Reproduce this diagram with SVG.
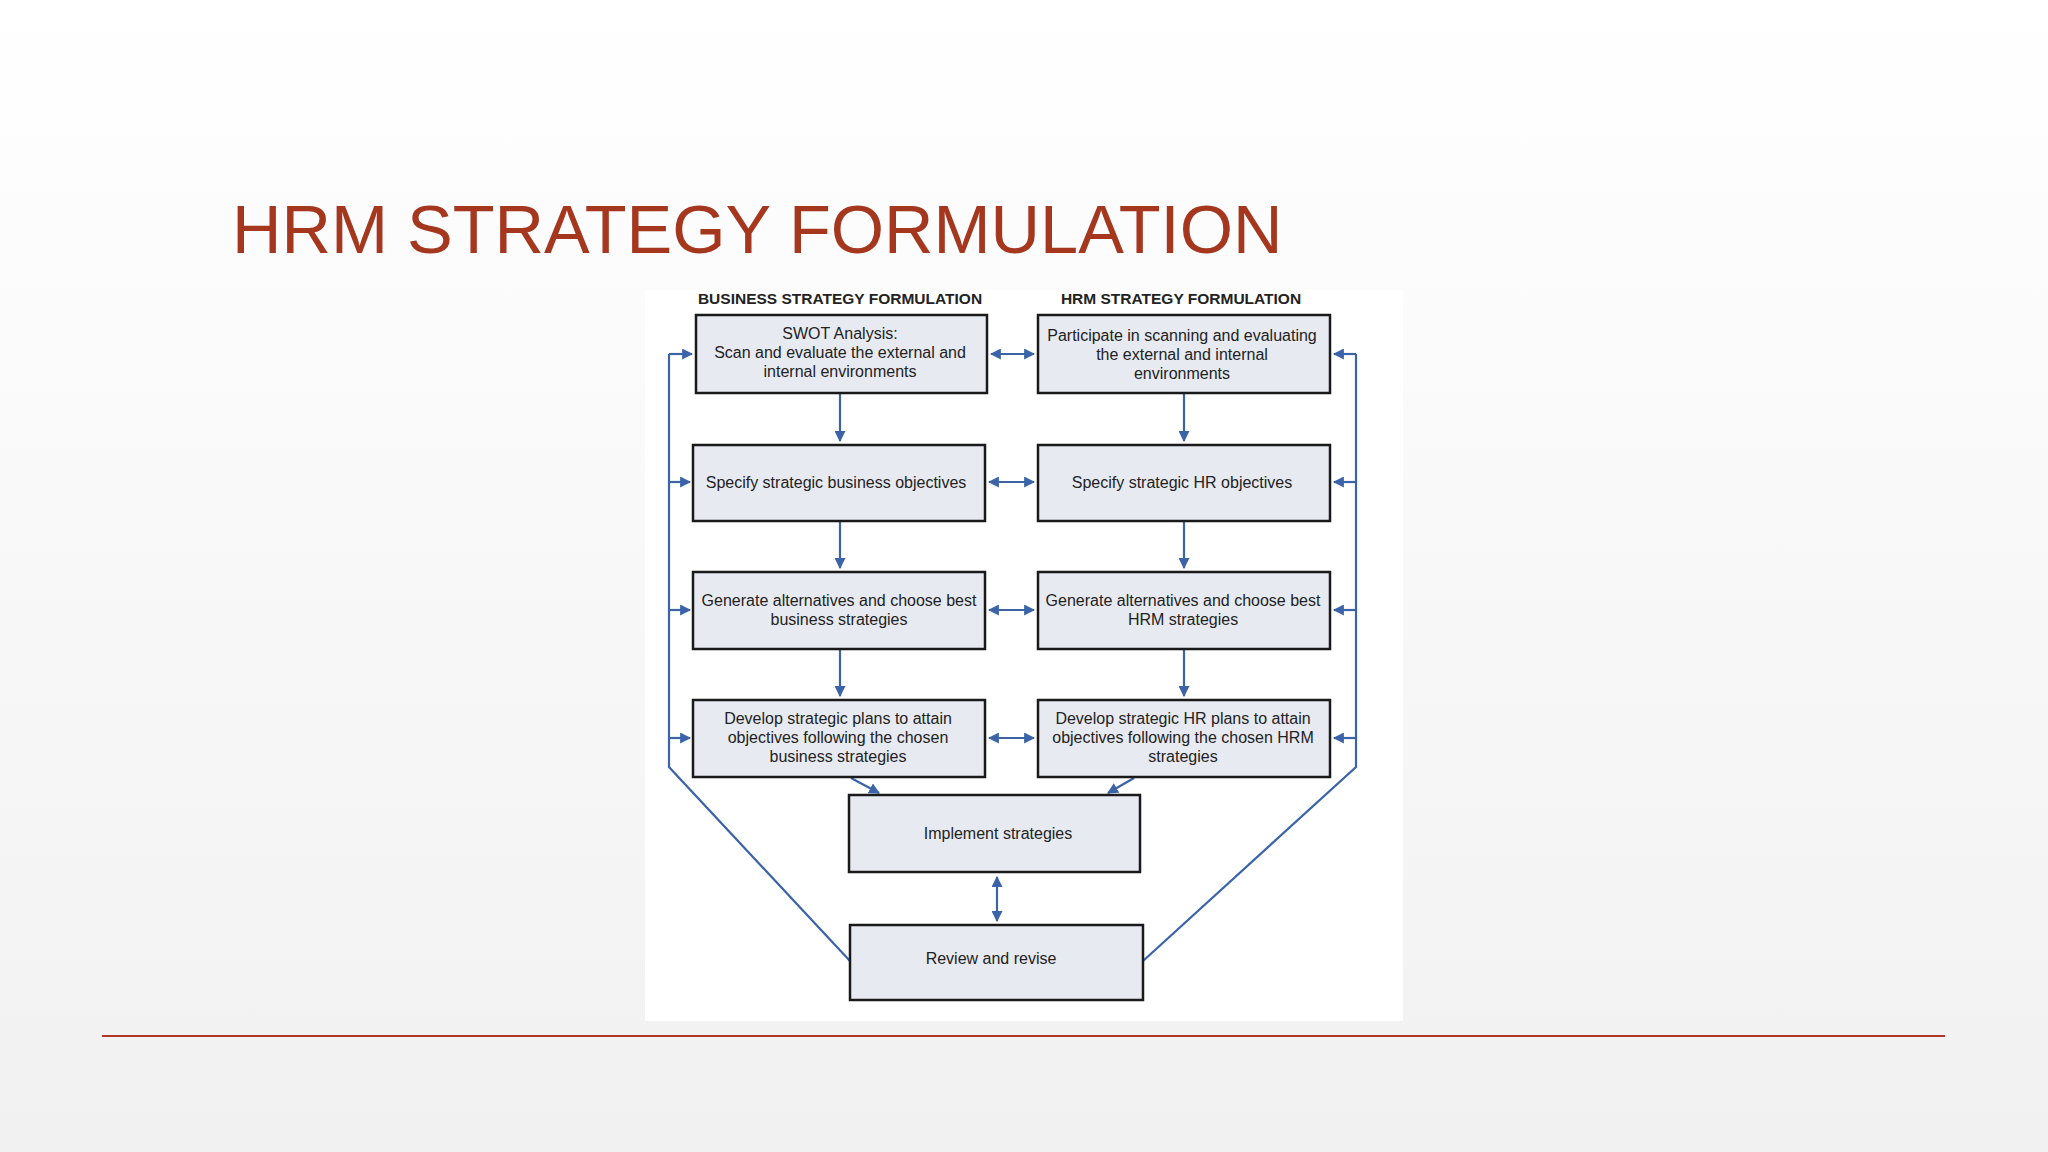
<svg xmlns="http://www.w3.org/2000/svg" width="2048" height="1152" viewBox="0 0 2048 1152">
<style>
.box{fill:#e8eaf2;stroke:#1a1a1a;stroke-width:2.5}
.t{font-family:"Liberation Sans",Arial,sans-serif;font-size:16px;fill:#222;text-anchor:middle}
.h{font-family:"Liberation Sans",Arial,sans-serif;font-size:15.5px;font-weight:bold;fill:#222;text-anchor:middle}
.c{stroke:#3a63a8;stroke-width:2.2;fill:none}
.e{marker-end:url(#a)}
.b{marker-start:url(#a);marker-end:url(#a)}
</style>
<defs>
<marker id="a" viewBox="0 0 10 10" refX="9" refY="5" markerWidth="5" markerHeight="5" orient="auto-start-reverse"><path d="M0,0L10,5L0,10z" fill="#3a63a8"/></marker>
<linearGradient id="bg" x1="0" y1="0" x2="0" y2="1"><stop offset="0" stop-color="#ffffff"/><stop offset="1" stop-color="#f1f1f1"/></linearGradient>
</defs>
<rect width="2048" height="1152" fill="url(#bg)"/>
<rect x="645" y="290" width="758" height="731" fill="#ffffff"/>
<text x="232" y="253" font-family="Liberation Sans,Arial,sans-serif" font-size="68.5" fill="#a5371f">HRM STRATEGY FORMULATION</text>
<line x1="102" y1="1036" x2="1945" y2="1036" stroke="#b0382a" stroke-width="2"/>
<text class="h" x="840" y="304">BUSINESS STRATEGY FORMULATION</text>
<text class="h" x="1181" y="304">HRM STRATEGY FORMULATION</text>
<g id="connectors">
<path class="c e" d="M840,393V441"/><path class="c e" d="M840,521V568"/><path class="c e" d="M840,649V696"/>
<path class="c e" d="M1184,393V441"/><path class="c e" d="M1184,521V568"/><path class="c e" d="M1184,649V696"/>
<path class="c b" d="M991,354H1034"/><path class="c b" d="M989,482H1034"/><path class="c b" d="M989,610H1034"/><path class="c b" d="M989,738H1034"/>
<path class="c" d="M850,961L669,767V354"/>
<path class="c e" d="M669,354H692"/><path class="c e" d="M669,482H690"/><path class="c e" d="M669,610H690"/><path class="c e" d="M669,738H690"/>
<path class="c" d="M1143,961L1356,767V354"/>
<path class="c e" d="M1356,354H1334"/><path class="c e" d="M1356,482H1334"/><path class="c e" d="M1356,610H1334"/><path class="c e" d="M1356,738H1334"/>
<path class="c e" d="M851,778L879,793"/><path class="c e" d="M1134,778L1108,793"/>
<path class="c b" d="M997,877V921"/>
</g>
<g id="n1"><rect class="box" x="696" y="315" width="291" height="78"/><text class="t" x="840" y="339">SWOT Analysis:</text><text class="t" x="840" y="358">Scan and evaluate the external and</text><text class="t" x="840" y="377">internal environments</text></g>
<g id="n2"><rect class="box" x="1038" y="315" width="292" height="78"/><text class="t" x="1182" y="341">Participate in scanning and evaluating</text><text class="t" x="1182" y="360">the external and internal</text><text class="t" x="1182" y="379">environments</text></g>
<g id="n3"><rect class="box" x="693" y="445" width="292" height="76"/><text class="t" x="836" y="488">Specify strategic business objectives</text></g>
<g id="n4"><rect class="box" x="1038" y="445" width="292" height="76"/><text class="t" x="1182" y="488">Specify strategic HR objectives</text></g>
<g id="n5"><rect class="box" x="693" y="572" width="292" height="77"/><text class="t" x="839" y="606">Generate alternatives and choose best</text><text class="t" x="839" y="625">business strategies</text></g>
<g id="n6"><rect class="box" x="1038" y="572" width="292" height="77"/><text class="t" x="1183" y="606">Generate alternatives and choose best</text><text class="t" x="1183" y="625">HRM strategies</text></g>
<g id="n7"><rect class="box" x="693" y="700" width="292" height="77"/><text class="t" x="838" y="724">Develop strategic plans to attain</text><text class="t" x="838" y="743">objectives following the chosen</text><text class="t" x="838" y="762">business strategies</text></g>
<g id="n8"><rect class="box" x="1038" y="700" width="292" height="77"/><text class="t" x="1183" y="724">Develop strategic HR plans to attain</text><text class="t" x="1183" y="743">objectives following the chosen HRM</text><text class="t" x="1183" y="762">strategies</text></g>
<g id="n9"><rect class="box" x="849" y="795" width="291" height="77"/><text class="t" x="998" y="839">Implement strategies</text></g>
<g id="n10"><rect class="box" x="850" y="925" width="293" height="75"/><text class="t" x="991" y="964">Review and revise</text></g>
</svg>
